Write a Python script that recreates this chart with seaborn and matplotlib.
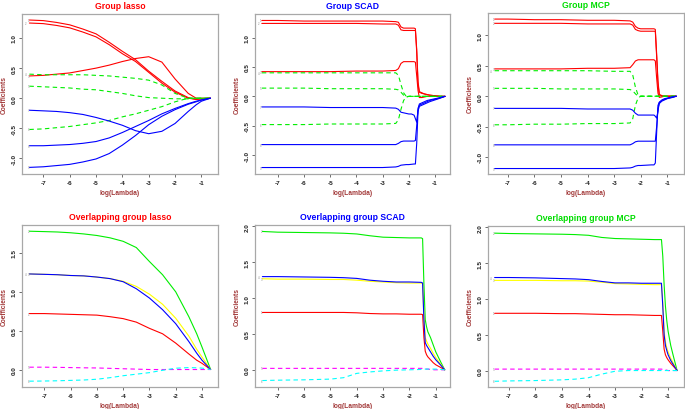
import matplotlib
matplotlib.use("Agg")
import matplotlib.pyplot as plt
import seaborn as sns
import pandas as pd

# ---------------- data ----------------
# Panel 1: Group lasso
x_gl = [-7.53, -7, -6.5, -6, -5.5, -5, -4.5, -4, -3.5, -3, -2.5, -2, -1.5, -1.2, -1.0, -0.66]
gl_red1 = [1.30, 1.29, 1.26, 1.22, 1.15, 1.07, 0.93, 0.78, 0.64, 0.45, 0.28, 0.12, 0.01, -0.02, -0.01, 0.0]
gl_red2 = [1.25, 1.24, 1.21, 1.17, 1.10, 1.02, 0.89, 0.74, 0.61, 0.43, 0.25, 0.10, 0.0, -0.02, -0.01, 0.0]
gl_red3 = [0.37, 0.38, 0.40, 0.42, 0.46, 0.50, 0.55, 0.61, 0.66, 0.69, 0.60, 0.32, 0.08, 0.0, 0.0, 0.0]
gl_grn1 = [0.40, 0.39, 0.39, 0.39, 0.39, 0.38, 0.37, 0.35, 0.33, 0.30, 0.22, 0.08, 0.0, 0.0, 0.0, 0.0]
gl_grn2 = [0.20, 0.19, 0.18, 0.17, 0.15, 0.14, 0.11, 0.08, 0.04, 0.01, 0.0, -0.01, -0.01, 0.0, 0.0, 0.0]
gl_grn3 = [-0.52, -0.51, -0.49, -0.47, -0.44, -0.41, -0.37, -0.31, -0.26, -0.20, -0.14, -0.06, 0.0, 0.0, 0.0, 0.0]
gl_blu1 = [-0.20, -0.21, -0.22, -0.24, -0.27, -0.32, -0.38, -0.45, -0.54, -0.59, -0.55, -0.42, -0.22, -0.11, -0.05, 0.0]
gl_blu2 = [-0.79, -0.79, -0.78, -0.77, -0.75, -0.72, -0.66, -0.57, -0.47, -0.37, -0.26, -0.17, -0.09, -0.05, -0.03, 0.0]
gl_blu3 = [-1.15, -1.14, -1.12, -1.10, -1.06, -1.01, -0.92, -0.78, -0.62, -0.44, -0.30, -0.19, -0.10, -0.06, -0.03, 0.0]

# Panel 2: Group SCAD
x_gs = [-7.61, -7, -6, -5, -4, -3, -2.5, -2.4, -2.3, -2.2, -2.1, -2.0, -1.9, -1.8, -1.75, -1.7, -1.65,
        -1.6, -1.5, -1.4, -1.3, -1.2, -1.0, -0.8, -0.62]
gs_red1 = [1.29, 1.29, 1.28, 1.28, 1.28, 1.28, 1.27, 1.26, 1.18, 1.16, 1.16, 1.16, 1.16, 1.16, 1.15, 0.75, 0.20,
           0.07, 0.05, 0.04, 0.03, 0.02, 0.01, 0.0, 0.0]
gs_red2 = [1.24, 1.24, 1.24, 1.24, 1.24, 1.23, 1.23, 1.21, 1.13, 1.12, 1.12, 1.12, 1.12, 1.12, 1.12, 0.80, 0.25,
           0.08, 0.06, 0.04, 0.03, 0.02, 0.01, 0.0, 0.0]
gs_red3 = [0.42, 0.42, 0.42, 0.42, 0.43, 0.43, 0.44, 0.47, 0.56, 0.59, 0.59, 0.59, 0.59, 0.59, 0.58, 0.35, 0.10,
           -0.02, -0.02, -0.01, 0.0, 0.0, 0.0, 0.0, 0.0]
gs_grn1 = [0.40, 0.40, 0.40, 0.40, 0.40, 0.40, 0.40, 0.36, 0.20, 0.06, 0.0, 0.0, 0.0, 0.0, 0.0, 0.0, 0.0,
           0.0, 0.0, 0.0, 0.0, 0.0, 0.0, 0.0, 0.0]
gs_grn2 = [0.14, 0.14, 0.14, 0.13, 0.13, 0.13, 0.12, 0.11, 0.07, 0.02, -0.01, 0.0, 0.0, 0.0, 0.0, 0.0, 0.0,
           0.0, 0.0, 0.0, 0.0, 0.0, 0.0, 0.0, 0.0]
gs_grn3 = [-0.48, -0.48, -0.48, -0.47, -0.47, -0.47, -0.46, -0.40, -0.22, -0.07, -0.01, 0.0, 0.0, 0.0, 0.0, 0.0, 0.0,
           0.0, 0.0, 0.0, 0.0, 0.0, 0.0, 0.0, 0.0]
gs_blu1 = [-0.18, -0.18, -0.18, -0.19, -0.19, -0.19, -0.20, -0.22, -0.27, -0.28, -0.29, -0.30, -0.30, -0.32, -0.38, -0.44, -0.25,
           -0.13, -0.11, -0.09, -0.07, -0.06, -0.04, -0.02, 0.0]
gs_blu2 = [-0.82, -0.82, -0.82, -0.82, -0.82, -0.82, -0.82, -0.80, -0.77, -0.76, -0.76, -0.76, -0.76, -0.76, -0.75, -0.50, -0.20,
           -0.15, -0.13, -0.11, -0.09, -0.07, -0.05, -0.025, 0.0]
gs_blu3 = [-1.21, -1.21, -1.21, -1.21, -1.21, -1.21, -1.20, -1.19, -1.17, -1.165, -1.16, -1.16, -1.155, -1.15, -1.15, -0.80, -0.25,
           -0.17, -0.15, -0.13, -0.11, -0.09, -0.06, -0.03, 0.0]

# Panel 3: Group MCP
x_gm = [-7.5, -7, -6, -5, -4, -3, -2.4, -2.3, -2.2, -2.1, -2.0, -1.8, -1.6, -1.5, -1.45, -1.4, -1.35,
        -1.3, -1.2, -1.1, -1.0, -0.8, -0.66]
gm_red1 = [1.27, 1.27, 1.26, 1.26, 1.25, 1.25, 1.24, 1.22, 1.15, 1.12, 1.11, 1.11, 1.11, 1.11, 1.10, 0.70, 0.25,
           0.03, 0.01, 0.0, 0.0, 0.0, 0.0]
gm_red2 = [1.20, 1.20, 1.20, 1.20, 1.19, 1.19, 1.19, 1.17, 1.10, 1.08, 1.07, 1.07, 1.07, 1.07, 1.07, 0.65, 0.20,
           0.02, 0.0, 0.0, 0.0, 0.0, 0.0]
gm_red3 = [0.45, 0.45, 0.45, 0.45, 0.46, 0.46, 0.47, 0.52, 0.58, 0.60, 0.60, 0.60, 0.60, 0.60, 0.58, 0.30, 0.05,
           -0.02, -0.01, 0.0, 0.0, 0.0, 0.0]
gm_grn1 = [0.42, 0.42, 0.42, 0.42, 0.42, 0.41, 0.41, 0.35, 0.15, 0.02, 0.0, 0.0, 0.0, 0.0, 0.0, 0.0, 0.0,
           0.0, 0.0, 0.0, 0.0, 0.0, 0.0]
gm_grn2 = [0.13, 0.13, 0.13, 0.12, 0.12, 0.12, 0.11, 0.09, 0.04, 0.0, 0.0, 0.0, 0.0, 0.0, 0.0, 0.0, 0.0,
           0.0, 0.0, 0.0, 0.0, 0.0, 0.0]
gm_grn3 = [-0.47, -0.47, -0.46, -0.46, -0.45, -0.45, -0.44, -0.37, -0.15, -0.03, 0.0, 0.0, 0.0, 0.0, 0.0, 0.0, 0.0,
           0.0, 0.0, 0.0, 0.0, 0.0, 0.0]
gm_blu1 = [-0.20, -0.20, -0.20, -0.20, -0.21, -0.21, -0.21, -0.23, -0.28, -0.31, -0.31, -0.31, -0.31, -0.31, -0.33, -0.36, -0.25,
           -0.10, -0.06, -0.04, -0.03, -0.01, 0.0]
gm_blu2 = [-0.80, -0.80, -0.80, -0.80, -0.80, -0.80, -0.80, -0.78, -0.75, -0.74, -0.74, -0.74, -0.74, -0.74, -0.74, -0.50, -0.20,
           -0.12, -0.08, -0.06, -0.04, -0.02, 0.0]
gm_blu3 = [-1.19, -1.19, -1.19, -1.19, -1.19, -1.19, -1.18, -1.17, -1.15, -1.14, -1.14, -1.135, -1.13, -1.13, -1.10, -0.60, -0.15,
           -0.10, -0.07, -0.05, -0.035, -0.015, 0.0]

# Panel 4: Overlapping group lasso
x_ol = [-7.57, -7, -6.5, -6, -5.5, -5, -4.5, -4, -3.5, -3, -2.5, -2, -1.5, -1.2, -1.0, -0.67]
ol_green = [1.78, 1.775, 1.77, 1.76, 1.745, 1.725, 1.695, 1.65, 1.57, 1.39, 1.22, 1.00, 0.68, 0.46, 0.29, 0.0]
ol_yellow = [1.23, 1.225, 1.22, 1.21, 1.205, 1.19, 1.17, 1.135, 1.07, 0.97, 0.84, 0.66, 0.43, 0.26, 0.16, 0.0]
ol_blue = [1.23, 1.225, 1.22, 1.21, 1.205, 1.19, 1.17, 1.13, 1.04, 0.92, 0.77, 0.59, 0.36, 0.21, 0.12, 0.0]
ol_red = [0.72, 0.72, 0.715, 0.71, 0.705, 0.70, 0.68, 0.655, 0.61, 0.53, 0.46, 0.34, 0.20, 0.12, 0.08, 0.0]
ol_magenta = [0.03, 0.03, 0.028, 0.025, 0.022, 0.02, 0.015, 0.01, 0.005, 0.0, 0.0, 0.0, 0.0, 0.0, 0.0, 0.0]
ol_cyan = [-0.15, -0.148, -0.145, -0.14, -0.135, -0.125, -0.105, -0.08, -0.06, -0.04, -0.01, 0.017, 0.025, 0.022, 0.018, 0.0]

# Panel 5: Overlapping group SCAD
x_os = [-7.58, -7, -6, -5, -4.5, -4, -3.5, -3, -2.5, -2, -1.55, -1.5, -1.45, -1.4, -1.35, -1.3, -1.2, -1.1, -1.0, -0.8, -0.66]
os_green = [1.93, 1.92, 1.915, 1.91, 1.905, 1.895, 1.87, 1.85, 1.845, 1.84, 1.84, 1.83, 1.20, 0.70, 0.60, 0.53, 0.45, 0.35, 0.25, 0.10, 0.0]
os_yellow = [1.27, 1.265, 1.265, 1.26, 1.26, 1.25, 1.235, 1.225, 1.215, 1.21, 1.21, 1.20, 0.75, 0.45, 0.40, 0.36, 0.30, 0.23, 0.17, 0.07, 0.0]
os_blue = [1.30, 1.30, 1.295, 1.29, 1.285, 1.275, 1.25, 1.235, 1.225, 1.225, 1.22, 1.21, 0.70, 0.38, 0.34, 0.31, 0.25, 0.19, 0.14, 0.06, 0.0]
os_red = [0.80, 0.80, 0.80, 0.80, 0.80, 0.795, 0.785, 0.78, 0.78, 0.775, 0.775, 0.77, 0.45, 0.26, 0.21, 0.18, 0.14, 0.10, 0.07, 0.03, 0.0]
os_magenta = [0.02, 0.02, 0.02, 0.02, 0.02, 0.02, 0.02, 0.02, 0.02, 0.02, 0.02, 0.02, 0.015, 0.01, 0.01, 0.01, 0.005, 0.0, 0.0, 0.0, 0.0]
os_cyan = [-0.15, -0.145, -0.14, -0.13, -0.11, -0.05, -0.03, -0.015, -0.005, 0.0, 0.005, 0.01, 0.01, 0.01, 0.01, 0.01, 0.01, 0.01, 0.01, 0.005, 0.0]

# Panel 6: Overlapping group MCP
x_om = [-7.54, -7, -6, -5, -4.5, -4, -3.5, -3, -2.5, -2, -1.5, -1.25, -1.2, -1.15, -1.1, -1.05, -1.0, -0.9, -0.8, -0.66]
om_green = [1.92, 1.915, 1.91, 1.905, 1.90, 1.89, 1.86, 1.845, 1.84, 1.835, 1.83, 1.83, 1.60, 1.20, 0.90, 0.70, 0.55, 0.35, 0.20, 0.0]
om_yellow = [1.26, 1.26, 1.26, 1.255, 1.255, 1.25, 1.235, 1.215, 1.21, 1.205, 1.20, 1.20, 0.95, 0.55, 0.40, 0.32, 0.26, 0.17, 0.10, 0.0]
om_blue = [1.30, 1.30, 1.295, 1.285, 1.28, 1.27, 1.245, 1.225, 1.225, 1.22, 1.22, 1.22, 0.90, 0.50, 0.35, 0.28, 0.22, 0.14, 0.08, 0.0]
om_red = [0.80, 0.80, 0.80, 0.795, 0.795, 0.79, 0.785, 0.78, 0.78, 0.775, 0.77, 0.77, 0.55, 0.30, 0.22, 0.18, 0.15, 0.10, 0.06, 0.0]
om_magenta = [0.02, 0.02, 0.02, 0.02, 0.02, 0.02, 0.02, 0.02, 0.02, 0.02, 0.02, 0.02, 0.015, 0.01, 0.01, 0.005, 0.0, 0.0, 0.0, 0.0]
om_cyan = [-0.15, -0.145, -0.14, -0.13, -0.12, -0.10, -0.05, -0.01, 0.0, 0.0, 0.0, 0.0, 0.0, 0.0, 0.0, 0.0, 0.0, 0.0, 0.0, 0.0]

titles = ["Group lasso", "Group SCAD", "Group MCP",
          "Overlapping group lasso", "Overlapping group SCAD", "Overlapping group MCP"]
x_ticks = [-7, -6, -5, -4, -3, -2, -1]

# ---------------- style ----------------
sns.set_style("white")
plt.rcParams["font.family"] = ["Liberation Sans", "DejaVu Sans"]

RED, GREEN, BLUE = "#FF0000", "#00EE00", "#0000FF"
YELLOW, MAGENTA, CYAN = "#FFFF00", "#FF00FF", "#00FFFF"
LABEL_COL = "#A33A3A"
TITLE_COLS = [RED, BLUE, "#00DD00", RED, BLUE, "#00DD00"]
DASH = (0, (4, 3))

panels = [
    (x_gl, [(gl_red1, RED, "-"), (gl_red2, RED, "-"), (gl_red3, RED, "-"),
            (gl_grn1, GREEN, DASH), (gl_grn2, GREEN, DASH), (gl_grn3, GREEN, DASH),
            (gl_blu1, BLUE, "-"), (gl_blu2, BLUE, "-"), (gl_blu3, BLUE, "-")],
     (-7.81, -0.37), (-1.26, 1.40), [-1.0, -0.5, 0.0, 0.5, 1.0]),
    (x_gs, [(gs_red1, RED, "-"), (gs_red2, RED, "-"), (gs_red3, RED, "-"),
            (gs_grn1, GREEN, DASH), (gs_grn2, GREEN, DASH), (gs_grn3, GREEN, DASH),
            (gs_blu1, BLUE, "-"), (gs_blu2, BLUE, "-"), (gs_blu3, BLUE, "-")],
     (-7.87, -0.43), (-1.32, 1.40), [-1.0, -0.5, 0.0, 0.5, 1.0]),
    (x_gm, [(gm_red1, RED, "-"), (gm_red2, RED, "-"), (gm_red3, RED, "-"),
            (gm_grn1, GREEN, DASH), (gm_grn2, GREEN, DASH), (gm_grn3, GREEN, DASH),
            (gm_blu1, BLUE, "-"), (gm_blu2, BLUE, "-"), (gm_blu3, BLUE, "-")],
     (-7.75, -0.37), (-1.28, 1.37), [-1.0, -0.5, 0.0, 0.5, 1.0]),
    (x_ol, [(ol_red, RED, "-"), (ol_green, GREEN, "-"), (ol_yellow, YELLOW, "-"), (ol_blue, BLUE, "-"),
            (ol_magenta, MAGENTA, DASH), (ol_cyan, CYAN, DASH)],
     (-7.85, -0.39), (-0.225, 1.86), [0.0, 0.5, 1.0, 1.5]),
    (x_os, [(os_red, RED, "-"), (os_green, GREEN, "-"), (os_yellow, YELLOW, "-"), (os_blue, BLUE, "-"),
            (os_magenta, MAGENTA, DASH), (os_cyan, CYAN, DASH)],
     (-7.86, -0.46), (-0.24, 2.02), [0.0, 0.5, 1.0, 1.5, 2.0]),
    (x_om, [(om_red, RED, "-"), (om_green, GREEN, "-"), (om_yellow, YELLOW, "-"), (om_blue, BLUE, "-"),
            (om_magenta, MAGENTA, DASH), (om_cyan, CYAN, DASH)],
     (-7.79, -0.40), (-0.23, 2.02), [0.0, 0.5, 1.0, 1.5, 2.0]),
]

# axes boxes in pixels (left, top, right, bottom)
boxes = [(22, 15, 218, 175), (255, 15, 450, 175), (488, 14, 684, 175),
         (22, 226, 218, 388), (255, 226, 450, 388), (488, 227, 684, 388)]

W, H = 685, 410
fig = plt.figure(figsize=(W / 100, H / 100), dpi=100)

for i, ((xs, curves, xl, yl, yt), (l, t, r, b)) in enumerate(zip(panels, boxes)):
    ax = fig.add_axes([l / W, 1 - b / H, (r - l) / W, (b - t) / H])
    placed = []
    min_gap = 0.025 * (yl[1] - yl[0])
    for k, (ys, col, ls) in enumerate(curves):
        df = pd.DataFrame({"x": xs, "y": ys})
        sns.lineplot(data=df, x="x", y="y", ax=ax, color=col, linestyle=ls,
                     linewidth=0.8, estimator=None, sort=False)
        # tiny variable-number label at the start of each path
        shift = sum(1 for py in placed if abs(py - ys[0]) < min_gap)
        ax.text(xs[0] - 0.04 - 0.09 * shift, ys[0], str(k + 1), fontsize=2.0, color="#888888",
                ha="center", va="center")
        placed.append(ys[0])
    ax.set_xlim(*xl)
    ax.set_ylim(*yl)
    ax.set_xticks(x_ticks)
    ax.set_xticklabels([str(v) for v in x_ticks])
    ax.set_yticks(yt)
    ax.set_yticklabels([f"{v:.1f}" for v in yt], rotation=90, va="center")
    ax.tick_params(axis="both", direction="out", length=2.5, width=0.6, color="#555555",
                   labelsize=4.6, pad=1.5, labelcolor="#222222", bottom=True, left=True)
    for lab in ax.get_xticklabels() + ax.get_yticklabels():
        lab.set_fontweight("bold")
    for sp in ax.spines.values():
        sp.set_color("#A8A8A8")
        sp.set_linewidth(0.9)
    ax.set_xlabel("log(Lambda)", fontsize=4.8, fontweight="bold", color=LABEL_COL, labelpad=3)
    ax.set_ylabel("Coefficients", fontsize=4.8, fontweight="bold", color=LABEL_COL, labelpad=3)
    ax.set_title(titles[i], fontsize=6.2, fontweight="bold", color=TITLE_COLS[i], pad=4)

fig.savefig("out.png", dpi=100, facecolor="white")
